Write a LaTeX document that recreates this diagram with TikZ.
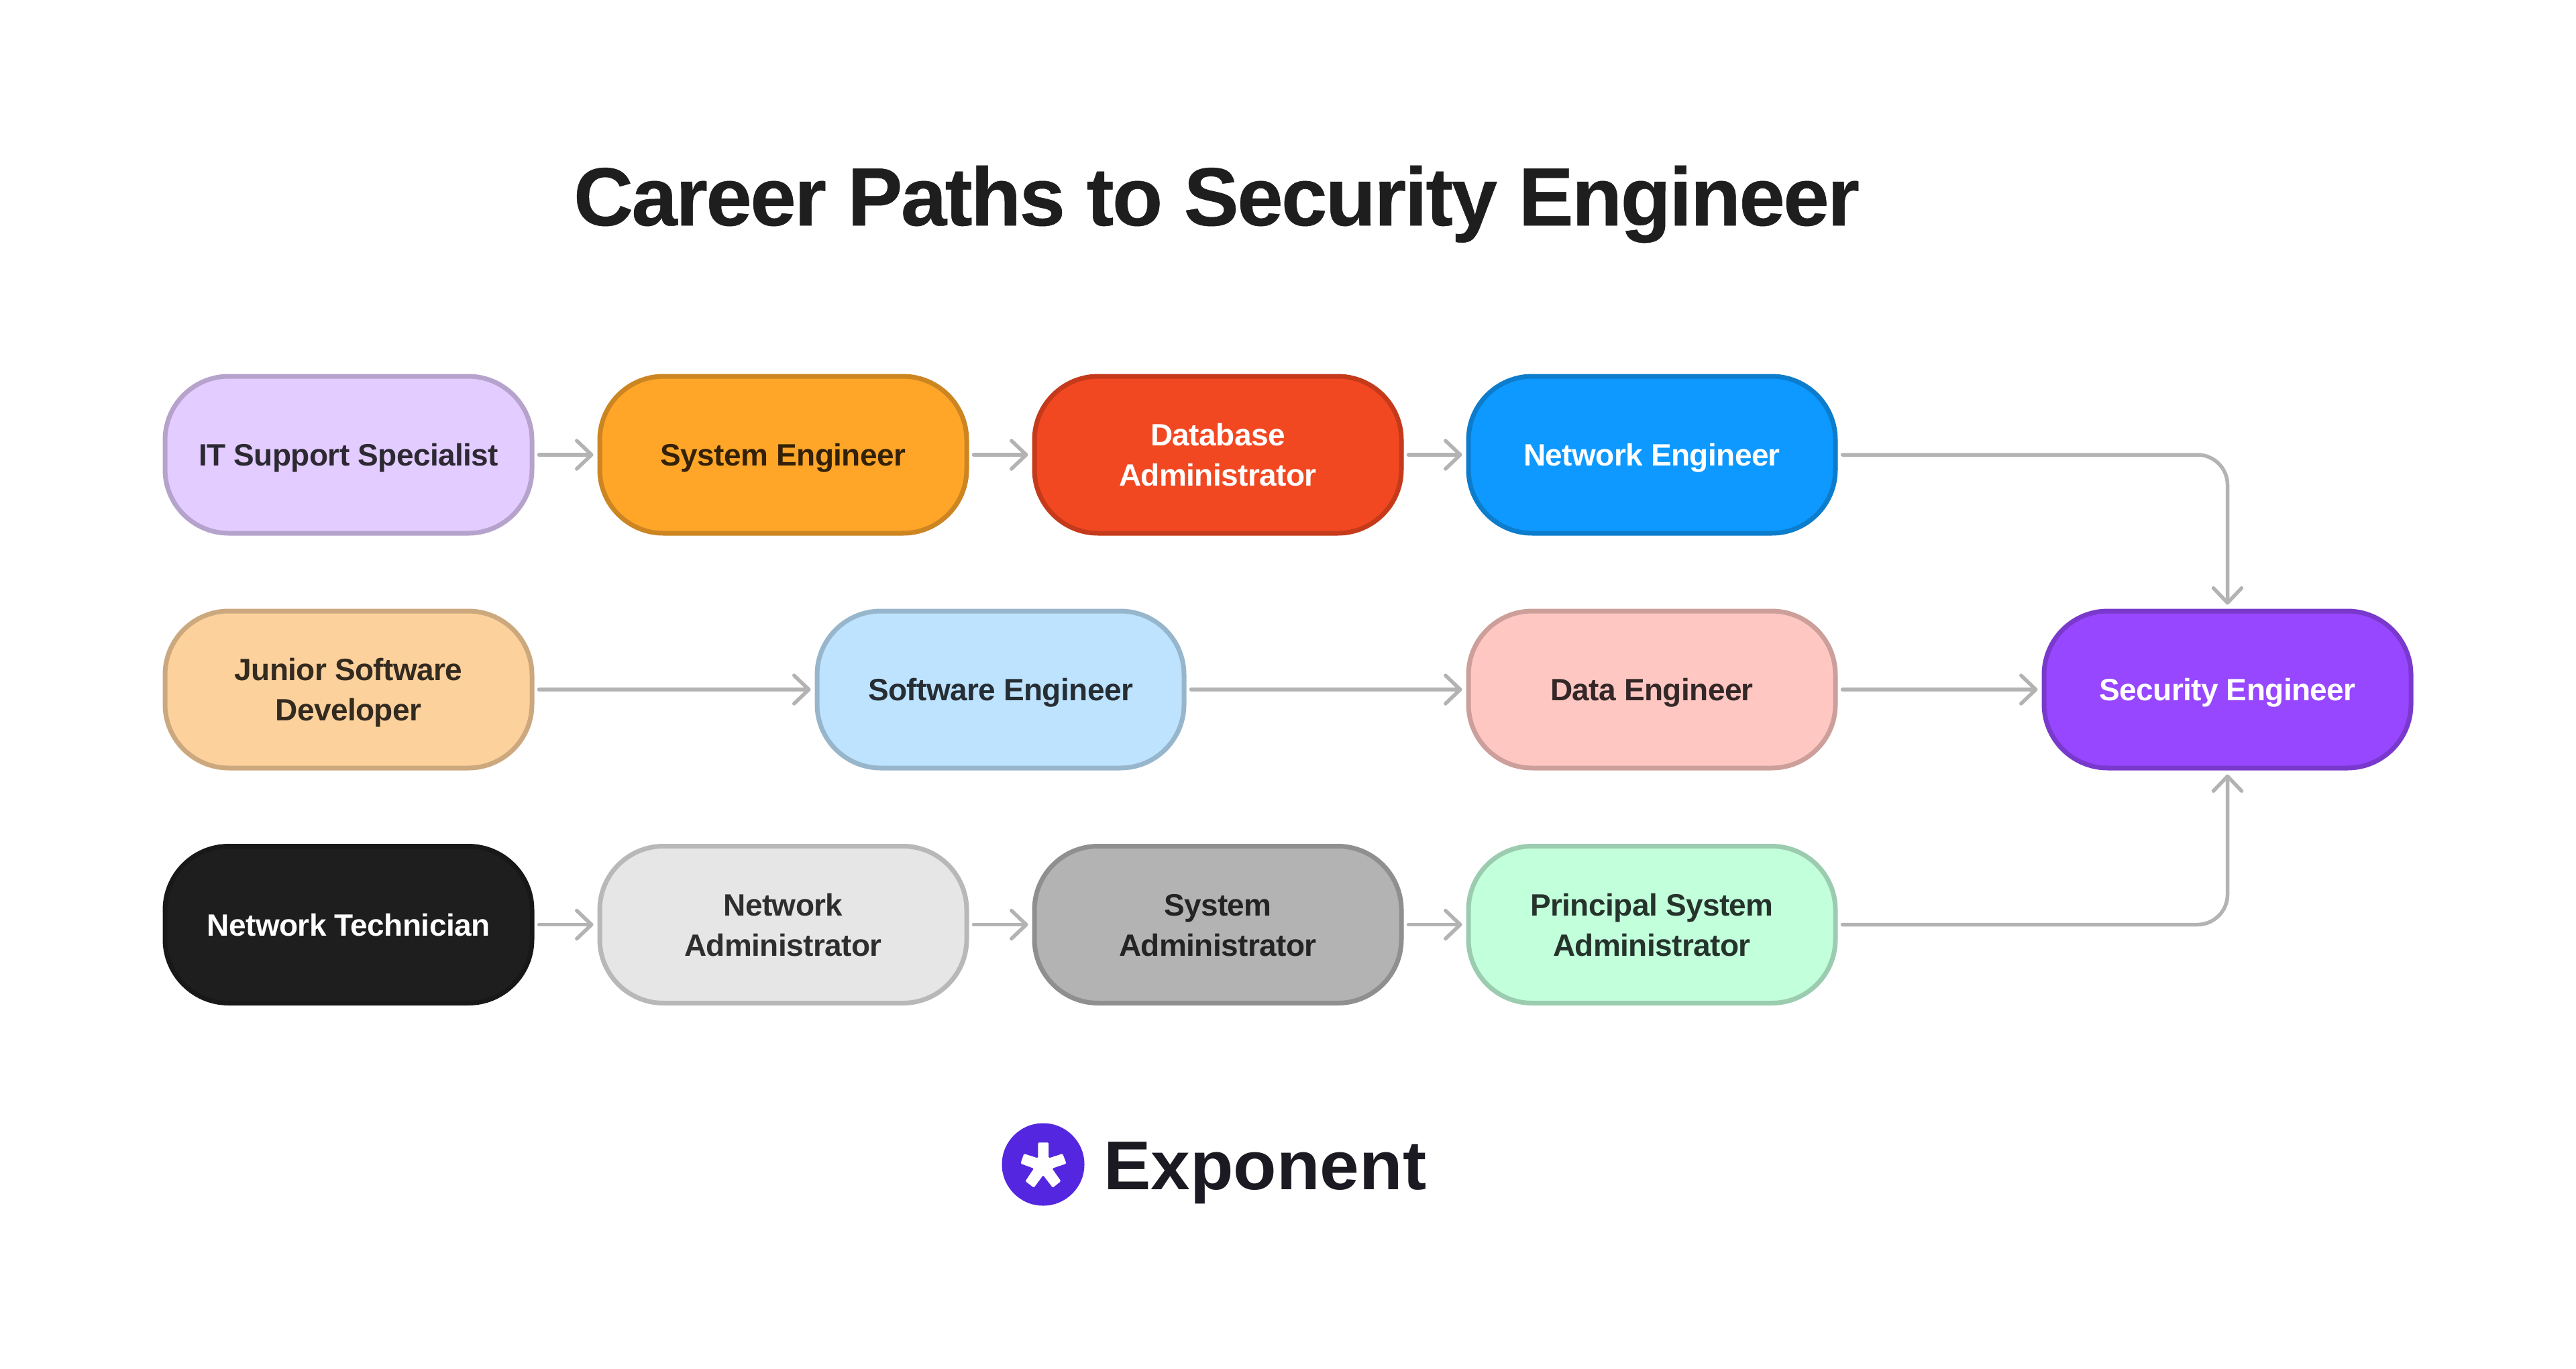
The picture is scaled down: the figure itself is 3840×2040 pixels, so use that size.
\documentclass[tikz,border=0pt]{standalone}
\usepackage{fontspec}
\setmainfont{Liberation Sans}
\newfontfamily\boxfont[LetterSpace=-1.3,BoldFont={Liberation Sans Bold}]{Liberation Sans}
\newfontfamily\titlefont[LetterSpace=-2.1,BoldFont={Liberation Sans Bold},BoldFeatures={FakeBold=0.4}]{Liberation Sans}
\newfontfamily\brandfont[FakeStretch=1.025,BoldFont={Liberation Sans Bold}]{Liberation Sans}
\usetikzlibrary{arrows.meta}
\definecolor{ink}{HTML}{1E1E1E}
\definecolor{wire}{HTML}{B3B3B3}
\definecolor{logoviolet}{HTML}{5526E0}
\definecolor{logoink}{HTML}{1B1A22}
\definecolor{lilacF}{HTML}{E3CCFF}\definecolor{lilacS}{HTML}{B6A3CC}\definecolor{lilacT}{HTML}{2D2933}
\definecolor{orangeF}{HTML}{FFA629}\definecolor{orangeS}{HTML}{CC8521}\definecolor{orangeT}{HTML}{332108}
\definecolor{redF}{HTML}{F24822}\definecolor{redS}{HTML}{C43A1A}
\definecolor{blueF}{HTML}{0D99FF}\definecolor{blueS}{HTML}{0C7CCC}
\definecolor{peachF}{HTML}{FCD19C}\definecolor{peachS}{HTML}{CCA87E}\definecolor{peachT}{HTML}{332A20}
\definecolor{skyF}{HTML}{BDE3FF}\definecolor{skyS}{HTML}{97B6CC}\definecolor{skyT}{HTML}{262D33}
\definecolor{pinkF}{HTML}{FFC7C2}\definecolor{pinkS}{HTML}{CC9F9B}\definecolor{pinkT}{HTML}{332827}
\definecolor{violetF}{HTML}{9747FF}\definecolor{violetS}{HTML}{7939CC}
\definecolor{blackF}{HTML}{1E1E1E}\definecolor{blackS}{HTML}{181818}
\definecolor{pgrayF}{HTML}{E6E6E6}\definecolor{pgrayS}{HTML}{B8B8B8}\definecolor{pgrayT}{HTML}{2E2E2E}
\definecolor{dgrayF}{HTML}{B3B3B3}\definecolor{dgrayS}{HTML}{8F8F8F}\definecolor{dgrayT}{HTML}{242424}
\definecolor{mintF}{HTML}{C2FFDB}\definecolor{mintS}{HTML}{9CCCB0}\definecolor{mintT}{HTML}{26332C}
\tikzset{
  jobbox/.style n args={3}{draw=#2,fill=#1,text=#3,line width=7pt,rounded corners=95pt,
    minimum width=547pt,minimum height=234pt,inner sep=0pt,align=center,
    font=\fontsize{46}{60}\selectfont\boxfont\bfseries},
  oneline/.style={text height=33pt,text depth=0pt},
  twolines/.style={text height=93pt,text depth=0pt},
  flow/.style={draw=wire,line width=5.5pt,line cap=round,rounded corners=45pt,
    -{Straight Barb[round,length=22pt,width=42pt,line width=5.5pt]},shorten <=7pt,shorten >=6pt},
}
\begin{document}
\begin{tikzpicture}[x=1pt,y=-1pt]
\useasboundingbox (0,0) rectangle (3840,2040);
\fill[white] (0,0) rectangle (3840,2040);
\node[anchor=base,text=ink,font=\fontsize{123}{123}\selectfont\titlefont\bfseries] (title) at (1813.5,336) {Career Paths to Security Engineer};
% row 1
\node[jobbox={lilacF}{lilacS}{lilacT},oneline] (itsupport) at (519.5,678) {IT Support Specialist};
\node[jobbox={orangeF}{orangeS}{orangeT},oneline] (syseng) at (1167.5,678) {System Engineer};
\node[jobbox={redF}{redS}{white},twolines] (dba) at (1815.5,678) {Database\\Administrator};
\node[jobbox={blueF}{blueS}{white},oneline] (neteng) at (2462.5,678) {Network Engineer};
% row 2
\node[jobbox={peachF}{peachS}{peachT},twolines] (junior) at (519.5,1028) {Junior Software\\Developer};
\node[jobbox={skyF}{skyS}{skyT},oneline] (softeng) at (1491.5,1028) {Software Engineer};
\node[jobbox={pinkF}{pinkS}{pinkT},oneline] (dataeng) at (2462.5,1028) {Data Engineer};
\node[jobbox={violetF}{violetS}{white},oneline] (seceng) at (3320.5,1028) {Security Engineer};
% row 3
\node[jobbox={blackF}{blackS}{white},oneline] (nettech) at (519.5,1378.5) {Network Technician};
\node[jobbox={pgrayF}{pgrayS}{pgrayT},twolines] (netadmin) at (1167.5,1378.5) {Network\\Administrator};
\node[jobbox={dgrayF}{dgrayS}{dgrayT},twolines] (sysadmin) at (1815.5,1378.5) {System\\Administrator};
\node[jobbox={mintF}{mintS}{mintT},twolines] (principal) at (2462.5,1378.5) {Principal System\\Administrator};
% connectors
\draw[flow] (itsupport.east) -- (syseng.west);
\draw[flow] (syseng.east) -- (dba.west);
\draw[flow] (dba.east) -- (neteng.west);
\draw[flow] (neteng.east) -| (seceng.north);
\draw[flow] (junior.east) -- (softeng.west);
\draw[flow] (softeng.east) -- (dataeng.west);
\draw[flow] (dataeng.east) -- (seceng.west);
\draw[flow] (nettech.east) -- (netadmin.west);
\draw[flow] (netadmin.east) -- (sysadmin.west);
\draw[flow] (sysadmin.east) -- (principal.west);
\draw[flow] (principal.east) -| (seceng.south);
% logo
\node[circle,fill=logoviolet,minimum size=123pt,inner sep=0pt] (logomark) at (1555,1736) {};
\fill[white,shift={(logomark.center)},rounded corners=1.5pt]
  (-7.7,-32.7) -- (8.2,-32.7) -- (8.2,-9.3) -- (29,-16) -- (34.7,-1.3) -- (13.3,6) -- (26.5,25) -- (14.3,34.7)
  -- (0,16) -- (-13.8,34.7) -- (-26.5,25) -- (-13.8,6) -- (-33.7,-1.3) -- (-28.6,-16) -- (-7.7,-9.3) -- cycle;
\node[anchor=base west,inner sep=0pt,text=logoink,font=\fontsize{103}{103}\selectfont\brandfont\bfseries] (wordmark) at (1645,1773) {Exponent};
\end{tikzpicture}
\end{document}
